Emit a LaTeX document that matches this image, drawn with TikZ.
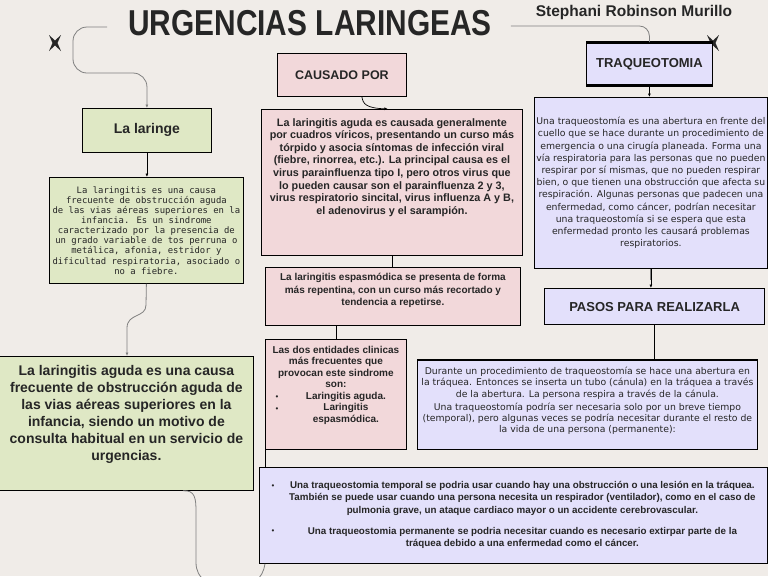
\documentclass[tikz,border=0pt]{standalone}
\usepackage{fontspec}
\setmainfont{Liberation Sans}
\newfontfamily\bodyfont{DejaVu Sans}
\newfontfamily\typefont{DejaVu Sans Mono}
\usepackage{tikz}
\usetikzlibrary{arrows.meta, positioning, calc}
\definecolor{paper}{HTML}{F0ECE8}
\definecolor{leaf}{HTML}{DFE8C5}
\definecolor{rose}{HTML}{F2D8DA}
\definecolor{lilac}{HTML}{E3E0FB}
\definecolor{ink}{HTML}{262626}
\definecolor{wire}{HTML}{808080}

\begin{document}
\begin{tikzpicture}[
      x=1pt, y=-1pt, >={Latex[length=3.5pt,width=3pt]},
      card/.style={draw=black, line width=0.8pt, anchor=north west,
                   inner sep=0pt, text=ink, align=center},
      leafcard/.style={card, fill=leaf},
      rosecard/.style={card, fill=rose},
      lilaccard/.style={card, fill=lilac},
      words/.style={text=ink, align=center, inner sep=0pt},
      link/.style={draw=black, line width=0.7pt},
      thread/.style={draw=wire, line width=0.8pt},
    ]
    \path[use as bounding box, fill=paper] (0,0) rectangle (768,576);
    \clip (0,0) rectangle (768,576);

    \node[words, font=\bfseries\fontsize{36}{36}\selectfont] (title) at (310,23)
      {\scalebox{0.83}[1]{URGENCIAS LARINGEAS}};
    \node[words, font=\bfseries\fontsize{15.5}{16}\selectfont] (author) at (634,12)
      {Stephani Robinson Murillo};
    \foreach \sx in {55,713}
      \fill[ink] (\sx,43) +(-6,-8) -- +(0,-2.5) -- +(6,-8) -- +(2.5,0) -- +(6,8)
        -- +(0,2.5) -- +(-6,8) -- +(-2.5,0) -- cycle;

    \node[leafcard, font=\bfseries\fontsize{14}{16}\selectfont,
          minimum width=129pt, minimum height=44pt] (laringe) at (82,108) {La laringe};
    \node[leafcard, font=\typefont\fontsize{8.9}{10.1}\selectfont,
          minimum width=194pt, minimum height=106pt] (defin) at (49,177)
      {La laringitis es una causa\\frecuente de obstrucción aguda\\de las vias aéreas superiores en la\\
       infancia. Es un sindrome\\caracterizado por la presencia de\\un grado variable de tos perruna o\\
       metálica, afonia, estridor y\\dificultad respiratoria, asociado o\\no a fiebre.};
    \node[leafcard, minimum width=254pt, minimum height=134pt] (aguda) at (-1,356) {};
    \node[words, font=\bfseries\fontsize{14}{17.1}\selectfont, below=9pt of aguda.north] (agudatxt)
      {La laringitis aguda es una causa\\frecuente de obstrucción aguda de\\las vias aéreas superiores en la\\
       infancia, siendo un motivo de\\consulta habitual en un servicio de\\urgencias.};

    \node[rosecard, font=\bfseries\fontsize{12.5}{14}\selectfont,
          minimum width=129pt, minimum height=43pt] (causado) at (277,53) {CAUSADO POR};
    \node[rosecard, minimum width=261pt, minimum height=146pt] (causas) at (261,109) {};
    \node[words, font=\bfseries\fontsize{10.8}{12.6}\selectfont, below=9pt of causas.north] (causastxt)
      {La laringitis aguda es causada generalmente\\por cuadros víricos, presentando un curso más\\
       tórpido y asocia síntomas de infección viral\\(fiebre, rinorrea, etc.). La principal causa es el\\
       virus parainfluenza tipo I, pero otros virus que\\lo pueden causar son el parainfluenza 2 y 3,\\
       virus respiratorio sincital, virus influenza A y B,\\el adenovirus y el sarampión.};
    \node[rosecard, minimum width=255pt, minimum height=58pt] (espasm) at (265,267) {};
    \node[words, font=\bfseries\fontsize{10}{12.5}\selectfont, below=6pt of espasm.north] (espasmtxt)
      {La laringitis espasmódica se presenta de forma\\más repentina, con un curso más recortado y\\
       tendencia a repetirse.};
    \node[rosecard, minimum width=141pt, minimum height=110pt] (entidades) at (265,339) {};
    \node[words, font=\bfseries\fontsize{10}{11.4}\selectfont, below=7pt of entidades.north] (entidadestxt)
      {Las dos entidades clinicas\\más frecuentes que\\provocan este sindrome\\son:};
    \node[words, font=\bfseries\fontsize{10}{11.4}\selectfont, below=4pt of entidadestxt, xshift=10pt] (formas)
      {Laringitis aguda.\\Laringitis\\espasmódica.};
    \node[words, font=\fontsize{8}{8}\selectfont] (dotA) at (277,398) {•};
    \node[words, font=\fontsize{8}{8}\selectfont] (dotB) at (277,410) {•};

    \node[lilaccard, font=\bfseries\fontsize{13}{15}\selectfont,
          minimum width=126pt, minimum height=43pt] (traqueo) at (586,42) {TRAQUEOTOMIA};
    \draw[line width=3pt] (traqueo.north west) -- (traqueo.north east);
    \draw[line width=3pt] (traqueo.south west) -- (traqueo.south east);
    \node[lilaccard, font=\bodyfont\fontsize{9.3}{12.2}\selectfont,
          minimum width=233pt, minimum height=171pt] (defT) at (534,97)
      {Una traqueostomía es una abertura en frente del\\cuello que se hace durante un procedimiento de\\
       emergencia o una cirugía planeada. Forma una\\vía respiratoria para las personas que no pueden\\
       respirar por sí mismas, que no pueden respirar\\bien, o que tienen una obstrucción que afecta su\\
       respiración. Algunas personas que padecen una\\enfermedad, como cáncer, podrían necesitar\\
       una traqueostomía si se espera que esta\\enfermedad pronto les causará problemas\\respiratorios.};
    \node[lilaccard, line width=1.2pt, font=\bfseries\fontsize{13}{15}\selectfont,
          minimum width=220pt, minimum height=36pt] (pasos) at (544,288) {PASOS PARA REALIZARLA};
    \node[lilaccard, minimum width=340pt, minimum height=89pt] (proced) at (417,360) {};
    \draw[line width=2.2pt] (proced.north west) -- (proced.north east);
    \node[words, font=\bodyfont\fontsize{9.3}{11.3}\selectfont, below=7pt of proced.north] (procedtxt)
      {Durante un procedimiento de traqueostomía se hace una abertura en\\
       la tráquea. Entonces se inserta un tubo (cánula) en la tráquea a través\\
       de la abertura. La persona respira a través de la cánula.\\[1.5pt]
       Una traqueostomía podría ser necesaria solo por un breve tiempo\\
       (temporal), pero algunas veces se podría necesitar durante el resto de\\
       la vida de una persona (permanente):};
    \node[lilaccard, minimum width=508pt, minimum height=96pt] (tipos) at (259,467) {};
    \node[words, font=\bfseries\fontsize{9.8}{12.4}\selectfont, below=14pt of tipos.north, xshift=9pt] (tipostxt)
      {Una traqueostomia temporal se podria usar cuando hay una obstrucción o una lesión en la tráquea.\\
       También se puede usar cuando una persona necesita un respirador (ventilador), como en el caso de\\
       pulmonia grave, un ataque cardiaco mayor o un accidente cerebrovascular.\\[9pt]
       Una traqueostomia permanente se podria necesitar cuando es necesario extirpar parte de la\\
       tráquea debido a una enfermedad como el cáncer.};
    \node[words, font=\fontsize{8}{8}\selectfont] (dotC) at (273,487) {•};
    \node[words, font=\fontsize{8}{8}\selectfont] (dotD) at (273,532) {•};

    \coordinate (rim) at (0,26);
    \coordinate (dropA) at (127,0);
    \draw[thread, ->, rounded corners=14pt] ($(title.west)+(-21,4)$) -- (73,27) -- (73,73)
      -- (147,73) -- (laringe.north);
    \draw[thread, rounded corners=10pt] ($(title.east)+(19,3)$) -- (traqueo.north |- rim)
      -- (traqueo.north);
    \draw[link, ->] (laringe.south) -- (laringe.south |- defin.north);
    \draw[thread, ->] (defin.south) -- (146,305) .. controls (146,318) and (127,313) .. (127,328)
      -- (dropA |- aguda.north);
    \draw[thread] ($(aguda.south west)+(184,0)$) .. controls (195,490) and (196,498) .. (196,512)
      -- (196,562) .. controls (196,571) and (199,576) .. (206,582);
    \draw[thread] ($(tipos.south west)+(6,0)$) .. controls (264,571) and (261,577) .. (255,582);
    \draw[link, ->] ($(causado.south)+(20,0)$) .. controls (363,104) and (366,108)
      .. ($(causas.north)+(-4,0)$);
    \draw[link] (causas.south) -- (causas.south |- espasm.north);
    \draw[link] (entidades.north |- espasm.south) -- (entidades.north);
    \draw[link] (entidades.south west) -- (entidades.south west |- tipos.north);
    \draw[link, ->] (traqueo.south) -- (traqueo.south |- defT.north);
    \draw[wire, line width=2pt] (defT.south) -- ++(0,11);
    \draw[link, ->] (defT.south) -- (defT.south |- pasos.north);
    \draw[link] (pasos.south) -- (pasos.south |- proced.north);
  \end{tikzpicture}
\end{document}
